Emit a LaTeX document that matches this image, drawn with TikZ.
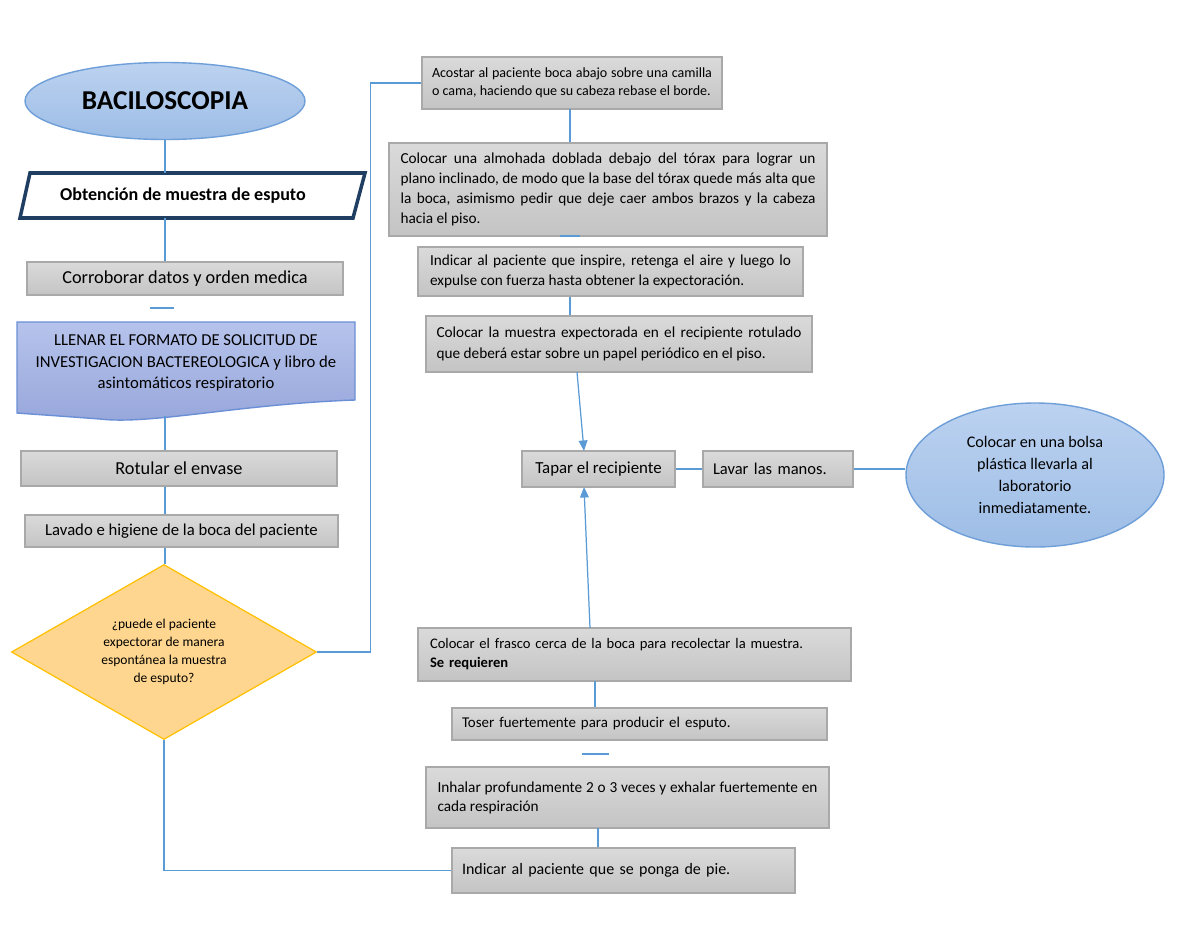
\documentclass[tikz,border=0pt]{standalone}
\usepackage{fontspec}
\setmainfont{Carlito}
\usetikzlibrary{shapes.geometric,arrows.meta,calc}
\newlength\upx \setlength\upx{0.02cm}
\definecolor{lineblue}{HTML}{5B9BD5}
\definecolor{boxtop}{HTML}{DADADA}
\definecolor{boxbot}{HTML}{C4C4C4}
\definecolor{boxborder}{HTML}{A9A9A9}
\definecolor{elltop}{HTML}{BCD2F0}
\definecolor{ellbot}{HTML}{9DBDE6}
\definecolor{ellborder}{HTML}{6F9FD8}
\definecolor{doctop}{HTML}{B6C3EC}
\definecolor{docbot}{HTML}{97A6DA}
\definecolor{docborder}{HTML}{6B8FD6}
\definecolor{navy}{HTML}{1F3E62}
\definecolor{diafill}{HTML}{FFD68F}
\definecolor{diaborder}{HTML}{FFC000}
\hyphenpenalty=10000
\exhyphenpenalty=10000
\begin{document}
\begin{tikzpicture}[x=0.02cm,y=-0.02cm,
  conn/.style={draw=lineblue, line width=0.7pt},
  arr/.style={conn, -{Triangle[width=5pt,length=6pt]}},
  gbox/.style={draw=boxborder, line width=0.8pt, top color=boxtop, bottom color=boxbot, inner sep=0pt,
    font=\fontsize{8.7}{11.3}\selectfont},
  bell/.style={ellipse, draw=ellborder, line width=0.8pt, top color=elltop, bottom color=ellbot, inner sep=0pt},
]
\useasboundingbox (0,0) rectangle (1200,927);
\fill[white] (0,0) rectangle (1200,927);

% ---------------- left column ----------------
\node[bell, minimum width=280\upx, minimum height=77\upx, font=\bfseries\fontsize{15.5}{18}\selectfont] (bac) at (165,101) {BACILOSCOPIA};

\node[inner sep=0pt, font=\bfseries\fontsize{10.3}{12}\selectfont] (para) at (183,195.5) {Obtención de muestra de esputo};
\draw[navy, line width=2pt, line join=miter]
  ($(para.center)+(-153,-22.5)$) -- ($(para.center)+(182,-22.5)$) --
  ($(para.center)+(170,22.5)$) -- ($(para.center)+(-163,22.5)$) -- cycle;
\coordinate (paraT) at (para.center |- 0,173);
\coordinate (paraB) at (para.center |- 0,218);

\node[gbox, minimum width=316\upx, minimum height=33\upx, font=\fontsize{10.4}{12}\selectfont] (corr) at (185,278.5) {Corroborar datos y orden medica};

% document shape
\draw[docborder, line width=0.8pt, top color=doctop, bottom color=docbot]
  (17,322) -- (355,322) -- (355,400) .. controls (240,404) and (150,425) .. (100,419)
  .. controls (60,416) and (30,414) .. (17,413) -- cycle;
\node[inner sep=0pt, align=center, font=\fontsize{9.5}{12.2}\selectfont] (llen) at (186,363)
  {LLENAR EL FORMATO DE SOLICITUD DE\\INVESTIGACION BACTEREOLOGICA y libro de\\asintomáticos respiratorio};
\coordinate (llenB) at (165,416);

\node[gbox, minimum width=316\upx, minimum height=35\upx, font=\fontsize{10.4}{12}\selectfont] (rot) at (179,468.5) {Rotular el envase};
\node[gbox, minimum width=313\upx, minimum height=32\upx, font=\fontsize{9.5}{11}\selectfont] (lav) at (181.5,531) {Lavado e higiene de la boca del paciente};

\node[diamond, draw=diaborder, line width=0.7pt, fill=diafill, minimum width=305\upx, minimum height=175\upx, inner sep=0pt, aspect=1.74,
  align=center, font=\fontsize{7.7}{10.2}\selectfont] (dia) at (164,652)
  {¿puede el paciente\\expectorar de manera\\espontánea la muestra\\de esputo?};

% left connectors
\draw[conn] (bac.south) -- (bac.south |- paraT);
\draw[conn] (bac.south |- paraB) -- (bac.south |- corr.north);
\coordinate (d1) at (150,308); \coordinate (d1b) at (174,308);
\draw[conn] (d1) -- (d1b);
\draw[conn] (llenB) -- (llenB |- rot.north);
\draw[conn] (llenB |- rot.south) -- (llenB |- lav.north);
\draw[conn] (llenB |- lav.south) -- (llenB |- dia.north);

% ---------------- right column ----------------
\node[gbox, minimum width=300\upx, minimum height=52\upx, text width=280\upx, align=justify,
  font=\fontsize{8}{10.2}\selectfont] (acos) at (572,83)
  {Acostar al paciente boca abajo sobre una camilla o cama, haciendo que su cabeza rebase el borde.};

\node[gbox, minimum width=438\upx, minimum height=93\upx, text width=415\upx, align=justify, font=\fontsize{8.7}{11.3}\selectfont] (almo) at (608,189.5)
  {Colocar una almohada doblada debajo del tórax para lograr un\linebreak plano inclinado, de modo que la base del tórax quede más alta que\linebreak la boca, asimismo pedir que deje caer ambos brazos y la cabeza\linebreak hacia el piso.};

\node[gbox, minimum width=385\upx, minimum height=49\upx, text width=361\upx, align=justify] (insp) at (610.5,271.5)
  {Indicar al paciente que inspire, retenga el aire y luego lo expulse con fuerza hasta obtener la expectoración.};

\node[gbox, minimum width=386\upx, minimum height=56\upx, text width=365\upx, align=justify, font=\fontsize{8.7}{11.8}\selectfont] (mues) at (619,344)
  {Colocar la muestra expectorada en el recipiente rotulado que deberá estar sobre un papel periódico en el piso.};

\node[gbox, minimum width=153\upx, minimum height=36\upx, font=\fontsize{9.6}{11}\selectfont] (tap) at (598.5,469) {Tapar el recipiente};
\node[gbox, minimum width=150\upx, minimum height=36\upx, text width=130\upx, align=left, font=\fontsize{9.4}{11}\selectfont] (lavm) at (778,469) {Lavar las manos.};

\node[bell, minimum width=258\upx, minimum height=144\upx, align=center, font=\fontsize{9.2}{12.6}\selectfont] (bolsa) at (1035,475)
  {Colocar en una bolsa\\plástica llevarla al\\laboratorio\\inmediatamente.};

\node[gbox, minimum width=433\upx, minimum height=53\upx, text width=409\upx, align=left, font=\fontsize{8.3}{10.8}\selectfont] (fras) at (634.5,654.5)
  {Colocar el frasco cerca de la boca para recolectar la muestra.\\\textbf{Se requieren}};

\node[gbox, minimum width=375\upx, minimum height=32\upx, text width=355\upx, align=left, font=\fontsize{8.5}{11}\selectfont] (tos) at (639.5,724)
  {Toser fuertemente para producir el esputo.};

\node[gbox, minimum width=403\upx, minimum height=61\upx, text width=380\upx, align=justify, font=\fontsize{8.7}{10.8}\selectfont] (inh) at (627.5,797.5)
  {Inhalar profundamente 2 o 3 veces y exhalar fuertemente en cada respiración};

\node[gbox, minimum width=343\upx, minimum height=45\upx, text width=323\upx, align=left, font=\fontsize{9.1}{11}\selectfont] (pie) at (623.5,870.5)
  {Indicar al paciente que se ponga de pie.};

% right connectors
\coordinate (cA) at (570,109);
\draw[conn] (cA) -- (cA |- almo.north);
\coordinate (d2) at (560,236); \coordinate (d2b) at (580,236);
\draw[conn] (d2) -- (d2b);
\draw[conn] (cA |- insp.south) -- (cA |- mues.north);
\coordinate (mB) at (577,372); \coordinate (tT) at (584,451);
\draw[arr] (mB) -- (tT);
\draw[conn] (tap.east) -- (lavm.west);
\draw[conn] (lavm.east) -- (bolsa.west |- lavm.east);
\coordinate (fT) at (590,628); \coordinate (tB) at (584,487);
\draw[arr] (fT) -- (tB);
\coordinate (cF) at (595,681);
\draw[conn] (cF) -- (cF |- tos.north);
\coordinate (d3) at (582,754); \coordinate (d3b) at (609,754);
\draw[conn] (d3) -- (d3b);
\coordinate (cI) at (598,828);
\draw[conn] (cI) -- (cI |- pie.north);

% cross connectors
\draw[conn] (dia.east) -- ++(53,0) |- (acos.west);
\draw[conn] (dia.south) |- (pie.west);
\end{tikzpicture}
\end{document}
